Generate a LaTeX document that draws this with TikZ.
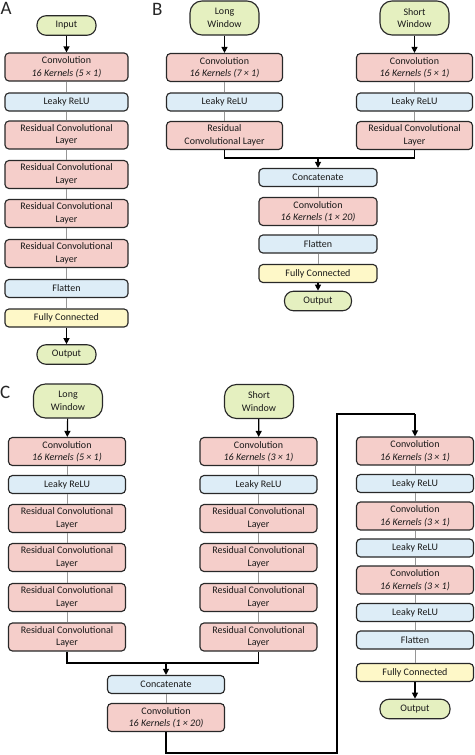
\documentclass[tikz,border=0pt]{standalone}
\usepackage{fontspec}
\setmainfont{Carlito}
\usetikzlibrary{arrows.meta}
\definecolor{pinkf}{RGB}{245,206,202}
\definecolor{bluef}{RGB}{221,237,247}
\definecolor{yelf}{RGB}{254,248,200}
\definecolor{grnf}{RGB}{229,240,192}
\definecolor{bord}{RGB}{40,40,40}
\definecolor{conn}{RGB}{150,150,150}
\tikzset{
  base/.style={draw=bord, line width=1.15pt, rounded corners=4pt, align=center,
    inner sep=0pt, font=\fontsize{10}{12.5}\selectfont, text=black!90},
  pinkbox/.style={base, fill=pinkf, minimum height=28pt},
  bluebox/.style={base, fill=bluef, minimum height=18pt},
  yelbox/.style={base, fill=yelf, minimum height=18pt},
  termbox/.style={base, fill=grnf, rounded corners=9pt, minimum height=19.5pt},
  winbox/.style={base, fill=grnf, rounded corners=12pt, minimum height=34pt, minimum width=69pt},
  wA/.style={minimum width=123pt},
  wB/.style={minimum width=116pt},
  wC/.style={minimum width=117pt},
  thin/.style={draw=conn, line width=0.8pt},
  arr/.style={draw=black, line width=1.2pt, -{Triangle[width=6pt,length=6pt]}},
  blk/.style={draw=black, line width=1.2pt},
  lbl/.style={font=\fontsize{19}{19}\selectfont, inner sep=0pt, anchor=north west, text=black!85}
}
\newcommand{\cv}[1]{Convolution\\\textit{16 Kernels (#1)}}
\newcommand{\rcl}{Residual Convolutional\\Layer}
\begin{document}
\begin{tikzpicture}[x=1pt,y=-1pt]
\useasboundingbox (0,0) rectangle (474,755);
\clip (0,0) rectangle (474,755);
% ---------- Panel A ----------
\node[lbl] (la) at (0.5,2) {A};
\node[termbox, minimum width=59pt] (ain) at (66.5,25.5) {Input};
\node[pinkbox, wA] (aconv) at (66.5,67) {\cv{5 × 1}};
\node[bluebox, wA] (aleak) at (66.5,102) {Leaky ReLU};
\node[pinkbox, wA] (ar1) at (66.5,135) {\rcl};
\node[pinkbox, wA] (ar2) at (66.5,174.5) {\rcl};
\node[pinkbox, wA] (ar3) at (66.5,213.5) {\rcl};
\node[pinkbox, wA] (ar4) at (66.5,253.5) {\rcl};
\node[bluebox, wA] (aflat) at (66.5,288.5) {Flatten};
\node[yelbox, wA] (afc) at (66.5,318) {Fully Connected};
\node[termbox, minimum width=59pt] (aout) at (66.5,354.5) {Output};
\draw[arr] (ain) -- (aconv);
\draw[thin] (aconv) -- (aleak);
\draw[thin] (aleak) -- (ar1);
\draw[thin] (ar1) -- (ar2);
\draw[thin] (ar2) -- (ar3);
\draw[thin] (ar3) -- (ar4);
\draw[thin] (ar4) -- (aflat);
\draw[thin] (aflat) -- (afc);
\draw[arr] (afc) -- (aout);
% ---------- Panel B ----------
\node[lbl] (lb) at (152,3) {B};
\node[winbox] (bwl) at (224.5,18) {Long\\Window};
\node[winbox] (bws) at (414.5,18) {Short\\Window};
\node[pinkbox, wB] (bcl) at (224.5,67.5) {\cv{7 × 1}};
\node[bluebox, wB] (bll) at (224.5,102) {Leaky ReLU};
\node[pinkbox, wB] (brl) at (224.5,135.5) {Residual\\Convolutional Layer};
\node[pinkbox, wB] (bcs) at (414.5,67.5) {\cv{5 × 1}};
\node[bluebox, wB] (bls) at (414.5,102) {Leaky ReLU};
\node[pinkbox, wB] (brs) at (414.5,135.5) {\rcl};
\node[bluebox, minimum width=118pt] (bcat) at (318,177.5) {Concatenate};
\node[pinkbox, minimum width=118pt] (bconv) at (318,211.5) {\cv{1 × 20}};
\node[bluebox, minimum width=118pt] (bflat) at (318,244) {Flatten};
\node[yelbox, minimum width=118pt] (bfc) at (318,273.5) {Fully Connected};
\node[termbox, minimum width=67pt] (bout) at (318,301) {Output};
\coordinate (bm) at (318,158);
\draw[arr] (bwl) -- (bcl);
\draw[arr] (bws) -- (bcs);
\draw[thin] (bcl) -- (bll);
\draw[thin] (bll) -- (brl);
\draw[thin] (bcs) -- (bls);
\draw[thin] (bls) -- (brs);
\draw[blk] (brl.south) |- (bm) -| (brs.south);
\draw[arr] (bm) -- (bcat);
\draw[thin] (bcat) -- (bconv);
\draw[thin] (bconv) -- (bflat);
\draw[thin] (bflat) -- (bfc);
\draw[arr] (bfc) -- (bout);
% ---------- Panel C ----------
\node[lbl] (lc) at (0,386) {C};
\node[winbox] (cwl) at (68,401) {Long\\Window};
\node[winbox] (cws) at (259,401.5) {Short\\Window};
\node[pinkbox, wC] (clc) at (67,451.5) {\cv{5 × 1}};
\node[bluebox, wC] (cll) at (67,484.5) {Leaky ReLU};
\node[pinkbox, wC] (cl1) at (67,518.5) {\rcl};
\node[pinkbox, wC] (cl2) at (67,557.5) {\rcl};
\node[pinkbox, wC] (cl3) at (67,597.5) {\rcl};
\node[pinkbox, wC] (cl4) at (67,637) {\rcl};
\node[pinkbox, wC] (csc) at (258.5,451.5) {\cv{3 × 1}};
\node[bluebox, wC] (csl) at (258.5,484.5) {Leaky ReLU};
\node[pinkbox, wC] (cs1) at (258.5,518.5) {\rcl};
\node[pinkbox, wC] (cs2) at (258.5,557.5) {\rcl};
\node[pinkbox, wC] (cs3) at (258.5,597.5) {\rcl};
\node[pinkbox, wC] (cs4) at (258.5,637) {\rcl};
\coordinate (cm) at (166,663);
\node[bluebox, wC] (ccat) at (166,684.5) {Concatenate};
\node[pinkbox, wC] (cc20) at (166,717.5) {\cv{1 × 20}};
\node[pinkbox, wC] (rc1) at (415,451) {\cv{3 × 1}};
\node[bluebox, wC] (rl1) at (415,483.5) {Leaky ReLU};
\node[pinkbox, wC] (rc2) at (415,516) {\cv{3 × 1}};
\node[bluebox, wC] (rl2) at (415,548) {Leaky ReLU};
\node[pinkbox, wC] (rc3) at (415,580) {\cv{3 × 1}};
\node[bluebox, wC] (rl3) at (415,612.5) {Leaky ReLU};
\node[bluebox, wC] (rf) at (415,640) {Flatten};
\node[yelbox, wC] (rfc) at (415,672.5) {Fully Connected};
\node[termbox, minimum width=70pt] (rout) at (415,709) {Output};
\coordinate (lp1) at (166,753);
\coordinate (lp2) at (337,753);
\coordinate (lp3) at (337,414);
\coordinate (lp4) at (415,414);
\draw[arr] (cwl) -- (clc);
\draw[arr] (cws) -- (csc);
\draw[thin] (clc) -- (cll);
\draw[thin] (cll) -- (cl1);
\draw[thin] (cl1) -- (cl2);
\draw[thin] (cl2) -- (cl3);
\draw[thin] (cl3) -- (cl4);
\draw[thin] (csc) -- (csl);
\draw[thin] (csl) -- (cs1);
\draw[thin] (cs1) -- (cs2);
\draw[thin] (cs2) -- (cs3);
\draw[thin] (cs3) -- (cs4);
\draw[blk] (cl4.south) |- (cm) -| (cs4.south);
\draw[arr] (cm) -- (ccat);
\draw[thin] (ccat) -- (cc20);
\draw[blk] (cc20.south) -- (lp1) -- (lp2) -- (lp3) -- (lp4);
\draw[arr] (lp4) -- (rc1);
\draw[thin] (rc1) -- (rl1);
\draw[thin] (rl1) -- (rc2);
\draw[thin] (rc2) -- (rl2);
\draw[thin] (rl2) -- (rc3);
\draw[thin] (rc3) -- (rl3);
\draw[thin] (rl3) -- (rf);
\draw[thin] (rf) -- (rfc);
\draw[arr] (rfc) -- (rout);
\end{tikzpicture}
\end{document}
